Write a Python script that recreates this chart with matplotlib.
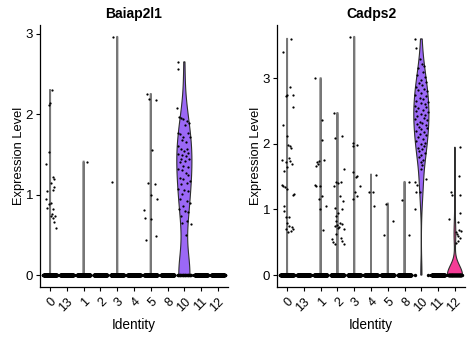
import numpy as np
import matplotlib
matplotlib.use('Agg')
import matplotlib.pyplot as plt

plt.rcParams['font.family'] = ['Liberation Sans', 'DejaVu Sans']

groups = ['0', '13', '1', '2', '3', '4', '5', '8', '10', '11', '12']
genes = ['Baiap2l1', 'Cadps2']

# colours of the violins that can actually be seen
fill_10 = '#9B68F6'
fill_12 = '#F53C97'

# number of cells with zero expression in each group
zeros_baiap = [20000, 8000, 20000, 20000, 20000, 20000, 20000, 20000, 20, 20000, 20000]
zeros_cadps = [20000, 8000, 20000, 20000, 20000, 20000, 20000, 20000, 2, 20000, 70]

# non-zero cells: (jitter offset, expression)
baiap_0 = [(0.10, 2.30), (0.00, 2.14), (-0.06, 2.11), (-0.04, 1.53), (-0.25, 1.38),
           (0.16, 1.22), (0.25, 1.20), (0.04, 1.14), (-0.20, 1.05), (0.24, 1.10),
           (0.16, 1.06), (-0.25, 0.94), (-0.08, 0.88), (0.06, 0.89), (-0.20, 0.83),
           (0.04, 0.74), (0.20, 0.82), (0.16, 0.71), (0.29, 0.73), (0.25, 0.66),
           (0.35, 0.59), (0.10, 0.76)]
baiap_1 = [(0.20, 1.41)]
baiap_3 = [(-0.25, 2.96), (-0.29, 1.16)]
baiap_5 = [(-0.20, 2.25), (-0.10, 2.19), (0.29, 2.18), (0.06, 1.56), (-0.14, 1.14),
           (0.25, 1.13), (0.02, 1.00), (0.35, 0.95), (-0.39, 0.81), (-0.33, 0.71),
           (0.02, 0.70), (-0.29, 0.43), (0.31, 0.48)]
baiap_10 = [(-0.35, 2.65), (-0.35, 2.56), (-0.41, 2.08), (-0.29, 1.96), (-0.20, 1.95),
            (-0.06, 1.94), (0.14, 1.92), (0.27, 1.89), (0.04, 1.87), (-0.35, 1.77),
            (-0.25, 1.75), (0.24, 1.77), (0.33, 1.71), (-0.06, 1.71), (-0.16, 1.68),
            (0.08, 1.65), (-0.35, 1.61), (-0.20, 1.57), (0.14, 1.57), (0.00, 1.54),
            (0.24, 1.52), (-0.35, 1.51), (-0.12, 1.49), (0.10, 1.48), (-0.20, 1.44),
            (0.27, 1.44), (0.04, 1.42), (-0.25, 1.40), (-0.06, 1.36), (0.20, 1.34),
            (-0.35, 1.32), (-0.16, 1.30), (0.08, 1.27), (0.24, 1.25), (-0.25, 1.21),
            (-0.06, 1.19), (0.33, 1.17), (0.14, 1.15), (-0.20, 1.13), (-0.35, 1.07),
            (0.00, 1.06), (0.24, 1.05), (-0.16, 1.01), (-0.25, 0.94), (0.14, 0.92),
            (0.33, 0.89), (-0.06, 0.86), (-0.31, 0.82), (0.04, 0.80), (0.20, 0.78),
            (-0.20, 0.74), (0.14, 0.67), (-0.16, 0.65), (0.39, 0.63), (0.10, 0.50)]

cadps_0 = [(0.24, 3.60), (-0.25, 3.40), (0.16, 2.86), (0.00, 2.75), (-0.06, 2.73),
           (0.35, 2.75), (0.33, 2.56), (-0.24, 2.29), (0.00, 2.12), (0.06, 1.99),
           (0.25, 1.94), (0.20, 1.97), (0.14, 1.79), (-0.29, 1.75), (-0.06, 1.73),
           (0.20, 1.74), (-0.20, 1.58), (0.29, 1.69), (0.00, 1.64), (-0.33, 1.37),
           (-0.25, 1.36), (-0.10, 1.35), (0.00, 1.31), (0.39, 1.23), (0.35, 1.22),
           (-0.20, 1.05), (-0.16, 0.98), (-0.06, 0.88), (0.10, 0.89), (0.00, 0.79),
           (0.10, 0.75), (-0.06, 0.71), (0.29, 0.73), (0.24, 0.67), (0.35, 0.70),
           (0.06, 0.65)]
cadps_1 = [(-0.33, 3.00), (0.10, 2.37), (0.06, 2.06), (-0.24, 1.72), (-0.18, 1.69),
           (-0.29, 1.66), (-0.10, 1.74), (0.20, 1.76), (-0.33, 1.38), (-0.29, 1.36),
           (-0.04, 1.36), (-0.10, 1.16), (0.08, 1.21), (-0.04, 1.01), (0.31, 1.05),
           (0.16, 0.68)]
cadps_2 = [(-0.20, 2.47), (-0.12, 2.09), (0.27, 2.12), (0.37, 1.61), (-0.06, 1.42),
           (0.04, 1.41), (0.24, 1.42), (-0.20, 1.36), (0.18, 1.21), (0.33, 1.13),
           (-0.16, 1.03), (0.29, 1.00), (0.04, 0.95), (-0.06, 0.83), (-0.16, 0.75),
           (-0.02, 0.77), (0.04, 0.72), (0.14, 0.79), (0.29, 0.78), (0.37, 0.70),
           (-0.31, 0.55), (-0.25, 0.51), (-0.16, 0.47), (0.20, 0.57), (0.27, 0.52),
           (0.39, 0.48), (-0.06, 0.62), (0.10, 0.74), (-0.10, 0.90)]
cadps_3 = [(-0.25, 3.63), (-0.06, 2.01), (0.14, 1.99), (-0.10, 1.97), (0.18, 1.51),
           (0.10, 1.49), (-0.10, 1.57), (0.37, 1.36), (0.04, 1.26), (-0.06, 1.16),
           (0.14, 1.21)]
cadps_4 = [(0.29, 1.53), (-0.14, 1.27), (0.14, 1.27), (0.16, 1.05)]
cadps_5 = [(-0.12, 1.09), (0.31, 0.83), (-0.20, 0.61)]
cadps_8 = [(0.25, 1.42), (-0.14, 1.15), (0.29, 0.61)]
cadps_10 = [(-0.35, 3.60), (-0.29, 3.46), (-0.10, 3.30), (0.05, 3.22), (0.15, 3.18),
            (-0.20, 3.15), (0.10, 3.10), (-0.28, 3.05), (0.20, 3.02), (-0.05, 2.98),
            (0.28, 2.95), (-0.15, 2.92), (0.05, 2.90), (-0.33, 2.87), (0.18, 2.84),
            (-0.22, 2.82), (0.35, 2.80), (0.00, 2.77), (-0.38, 2.75), (0.25, 2.73),
            (-0.10, 2.70), (0.12, 2.68), (-0.30, 2.66), (0.38, 2.64), (-0.05, 2.62),
            (0.20, 2.60), (-0.40, 2.58), (0.30, 2.56), (-0.18, 2.54), (0.08, 2.52),
            (-0.33, 2.50), (0.40, 2.48), (-0.02, 2.46), (0.22, 2.44), (-0.25, 2.42),
            (0.15, 2.40), (-0.38, 2.38), (0.32, 2.36), (-0.10, 2.34), (0.05, 2.32),
            (-0.28, 2.30), (0.25, 2.28), (-0.15, 2.26), (0.35, 2.24), (0.00, 2.22),
            (-0.30, 2.20), (0.18, 2.18), (-0.08, 2.15), (0.28, 2.13), (-0.22, 2.10),
            (0.10, 2.08), (-0.30, 2.05), (0.22, 2.02), (-0.05, 2.00), (0.15, 1.97),
            (-0.20, 1.94), (0.05, 1.92), (-0.12, 1.89), (0.20, 1.86), (0.00, 1.83),
            (-0.15, 1.80), (0.10, 1.76), (-0.05, 1.72), (0.05, 1.68), (-0.02, 1.62),
            (0.27, 1.46), (-0.35, 1.42), (-0.25, 1.38), (-0.29, 1.26), (-0.06, 1.27),
            (-0.35, 1.01)]
cadps_12 = [(0.33, 1.95), (0.27, 1.51), (-0.25, 1.27), (-0.20, 1.22), (0.33, 1.22),
            (0.33, 0.94), (-0.35, 0.86), (0.16, 0.81), (0.24, 0.69), (0.39, 0.67),
            (0.06, 0.65), (0.20, 0.59), (0.16, 0.52), (0.04, 0.49), (0.29, 0.56),
            (0.10, 0.62)]

points = [
    {'0': baiap_0, '1': baiap_1, '3': baiap_3, '5': baiap_5, '10': baiap_10},
    {'0': cadps_0, '1': cadps_1, '2': cadps_2, '3': cadps_3, '4': cadps_4,
     '5': cadps_5, '8': cadps_8, '10': cadps_10, '12': cadps_12},
]
zero_counts = [zeros_baiap, zeros_cadps]


def bw_nrd0(v):
    hi = np.std(v, ddof=1)
    q75, q25 = np.percentile(v, [75, 25])
    lo = min(hi, (q75 - q25) / 1.34)
    if lo == 0:
        lo = hi if hi > 0 else 1.0
    return 0.9 * lo * len(v) ** (-0.2)


fig = plt.figure(figsize=(4.74, 3.38), dpi=100)
lefts = [40 / 474, 277 / 474]

for k, gene in enumerate(genes):
    ax = fig.add_axes([lefts[k], 51 / 338, 188 / 474, 262 / 338])
    pts = points[k]
    ymax = 0
    for i, g in enumerate(groups):
        nz = pts.get(g, [])
        n0 = zero_counts[k][i]
        vals = np.array([v for _, v in nz] + [0.0] * n0)
        ymax = max(ymax, vals.max())
        if vals.max() > 0:
            h = bw_nrd0(vals)
            grid = np.linspace(vals.min(), vals.max(), 1024)
            # zeros enter the kernel sum as one weighted term
            dens = n0 * np.exp(-0.5 * (grid / h) ** 2)
            for _, v in nz:
                dens = dens + np.exp(-0.5 * ((grid - v) / h) ** 2)
            w = 0.45 * dens / dens.max()
            xs = np.concatenate([i - w, (i + w)[::-1]])
            ys = np.concatenate([grid, grid[::-1]])
            if g == '10':
                ax.fill(xs, ys, facecolor=fill_10, edgecolor='#2e2e2e',
                        linewidth=0.8, zorder=2)
            elif g == '12':
                ax.fill(xs, ys, facecolor=fill_12, edgecolor='#2e2e2e',
                        linewidth=0.8, zorder=2)
            else:
                # almost all zeros: the violin collapses to a grey stroke
                ax.fill(xs, ys, facecolor='#7a7a7a', edgecolor='#777777',
                        linewidth=1.4, zorder=2)
        # jittered cells (zero cells drawn as a dense row)
        nshow = min(n0, 200)
        zx = i + np.linspace(-0.4, 0.4, nshow)
        ax.scatter(zx, np.zeros(nshow), s=6, color='black', linewidths=0, zorder=3)
        if nz:
            ax.scatter([i + o for o, _ in nz], [v for _, v in nz], s=2.6,
                       color='black', linewidths=0, zorder=3)

    pad = ymax * 0.05
    ax.set_ylim(-pad, ymax + pad)
    ax.set_xlim(-0.6, len(groups) - 0.4)
    ax.set_xticks(range(len(groups)))
    ax.set_xticklabels(groups, rotation=45, ha='right', rotation_mode='anchor',
                       fontsize=9)
    ax.set_yticks([0, 1, 2, 3])
    ax.tick_params(axis='y', labelsize=9.5, length=3, width=0.8, pad=2)
    ax.tick_params(axis='x', length=3, width=0.8, pad=3)
    for s in ['top', 'right']:
        ax.spines[s].set_visible(False)
    for s in ['left', 'bottom']:
        ax.spines[s].set_linewidth(0.9)
    ax.set_title(gene, fontsize=10, fontweight='bold', pad=5)
    ax.set_xlabel('Identity', fontsize=9.8, labelpad=3)
    ax.set_ylabel('Expression Level', fontsize=9.3, labelpad=0.5)

fig.savefig('out.png', dpi=100)
